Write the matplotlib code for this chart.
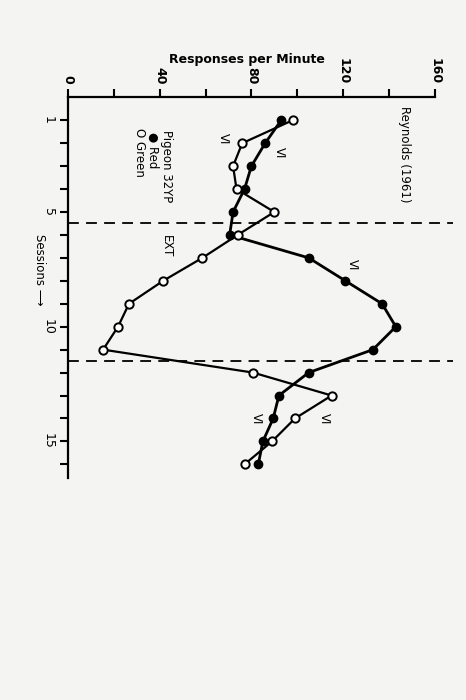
import matplotlib.pyplot as plt

# sessions run downward, responses per minute run to the right (page is rotated)
sessions = list(range(1, 17))
red = [93, 86, 80, 77, 72, 70.5, 105, 121, 137, 143, 133, 105, 92, 89.5, 85, 83]
green = [98, 76, 72, 73.5, 90, 74, 58.6, 41.5, 26.6, 21.8, 15.3, 80.7, 115, 99, 89, 77]
resp_ticks = [0, 40, 80, 120, 160]
sess_ticks = [1, 5, 10, 15]
phase_breaks = [5.5, 11.5]

fig = plt.figure(figsize=(4.66, 7.0), dpi=100)
fig.patch.set_facecolor('#f4f4f2')
ax = fig.add_axes([0.146, 0.317, 0.787, 0.544])
ax.set_facecolor('#f4f4f2')
ax.set_xlim(0, 160)
ax.set_ylim(16.6, 0)

for s in ['right', 'bottom']:
    ax.spines[s].set_visible(False)
for s in ['left', 'top']:
    ax.spines[s].set_linewidth(1.6)

ax.xaxis.tick_top()
ax.set_xticks(range(0, 161, 20))
ax.set_xticklabels([str(v) if v in resp_ticks else '' for v in range(0, 161, 20)],
                   rotation=-90, fontsize=9, fontweight='bold')
ax.set_yticks(range(1, 17))
ax.set_yticklabels([str(v) if v in sess_ticks else '' for v in range(1, 17)],
                   rotation=-90, fontsize=9, va='center')
ax.tick_params(axis='both', direction='out', length=6, width=1.5)

for b in phase_breaks:
    ax.plot([0, 168], [b, b], 'k--', lw=1.3, dashes=(6, 4), clip_on=False)

ax.plot(red, sessions, 'k-', lw=2, marker='o', ms=6, mfc='k', mec='k', zorder=3)
ax.plot(green, sessions, 'k-', lw=1.6, marker='o', ms=6, mfc='white', mec='k', mew=1.4, zorder=4)

fig.text(0.53, 0.915, 'Responses per Minute', ha='center', va='center',
         fontsize=9, fontweight='bold')
rot = dict(rotation=-90, fontsize=8.5, ha='center', va='center')
ax.text(147, 2.5, 'Reynolds (1961)', **rot)
ax.text(43, 3.0, 'Pigeon 32YP', **rot)
ax.text(37, 2.3, '● Red', **rot)
ax.text(31, 2.4, 'O Green', **rot)
ax.text(92, 2.4, 'VI', **rot)
ax.text(68, 1.8, 'VI', **rot)
ax.text(124, 7.3, 'VI', **rot)
ax.text(43, 6.5, 'EXT', **rot)
ax.text(112, 14.0, 'VI', **rot)
ax.text(82, 14.0, 'VI', **rot)
fig.text(0.085, 0.615, 'Sessions ⟶', rotation=-90, ha='center', va='center', fontsize=8.5)

fig.savefig('out.png', dpi=100, facecolor=fig.get_facecolor())
